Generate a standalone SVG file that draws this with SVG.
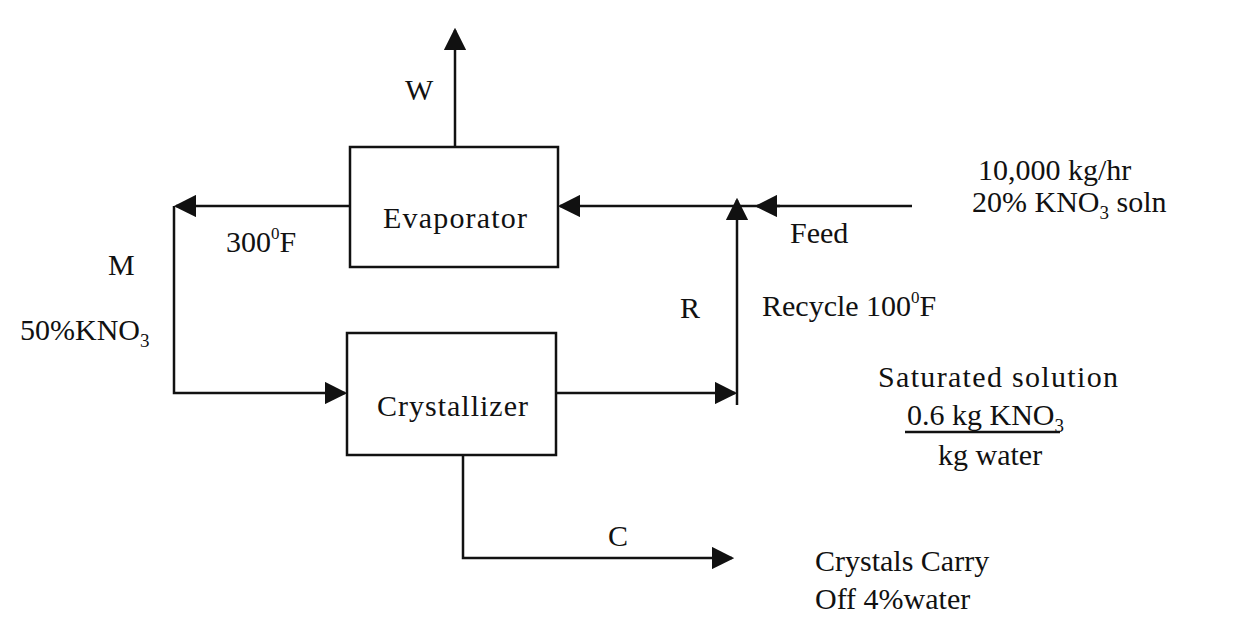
<svg xmlns="http://www.w3.org/2000/svg" width="1236" height="630" viewBox="0 0 1236 630">
<style>
text{font-family:"Liberation Serif",serif;font-size:30px;fill:#111}
.box{fill:none;stroke:#111;stroke-width:2.5}
.ln{fill:none;stroke:#111;stroke-width:2.5}
</style>
<defs><marker id="b" viewBox="0 0 10 10" refX="9" refY="5" markerWidth="9" markerHeight="9" orient="auto"><path d="M0,0L10,5L0,10z" fill="#111"/></marker></defs>
<rect width="1236" height="630" fill="#fff"/>
<g id="evaporator"><rect class="box" x="350" y="147" width="208" height="120"/><text x="383" y="228" textLength="144">Evaporator</text></g>
<g id="crystallizer"><rect class="box" x="347" y="333" width="209" height="122"/><text x="377" y="416" textLength="151">Crystallizer</text></g>
<g id="connectors">
<path class="ln" d="M455,147V30" marker-end="url(#b)"/>
<path class="ln" d="M350,206H176" marker-end="url(#b)"/>
<path class="ln" d="M174,206V393H345" marker-end="url(#b)"/>
<path class="ln" d="M556,393H735" marker-end="url(#b)"/>
<path class="ln" d="M737,405V200" marker-end="url(#b)"/>
<path class="ln" d="M912,206H560" marker-end="url(#b)"/>
<path class="ln" d="M780,206H757" marker-end="url(#b)"/>
<path class="ln" d="M463,455V558H732" marker-end="url(#b)"/>
</g>
<g id="labels">
<text x="405" y="100">W</text>
<text x="226" y="252">300<tspan font-size="17" dy="-13">0</tspan><tspan dy="13">F</tspan></text>
<text x="108" y="275">M</text>
<text x="20" y="340">50%KNO<tspan font-size="19" dy="7">3</tspan></text>
<text x="680" y="318">R</text>
<text x="762" y="316">Recycle 100<tspan font-size="17" dy="-13">0</tspan><tspan dy="13">F</tspan></text>
<text x="790" y="243">Feed</text>
<text x="978" y="180">10,000 kg/hr</text>
<text x="972" y="212">20% KNO<tspan font-size="19" dy="7">3</tspan><tspan dy="-7"> soln</tspan></text>
<text x="878" y="387" textLength="240">Saturated solution</text>
<text x="907" y="425">0.6 kg KNO<tspan font-size="19" dy="7">3</tspan></text>
<path class="ln" d="M905,432H1060" stroke-width="2"/>
<text x="938" y="465">kg water</text>
<text x="608" y="546">C</text>
<text x="815" y="571">Crystals Carry</text>
<text x="815" y="609">Off  4%water</text>
</g>
</svg>
